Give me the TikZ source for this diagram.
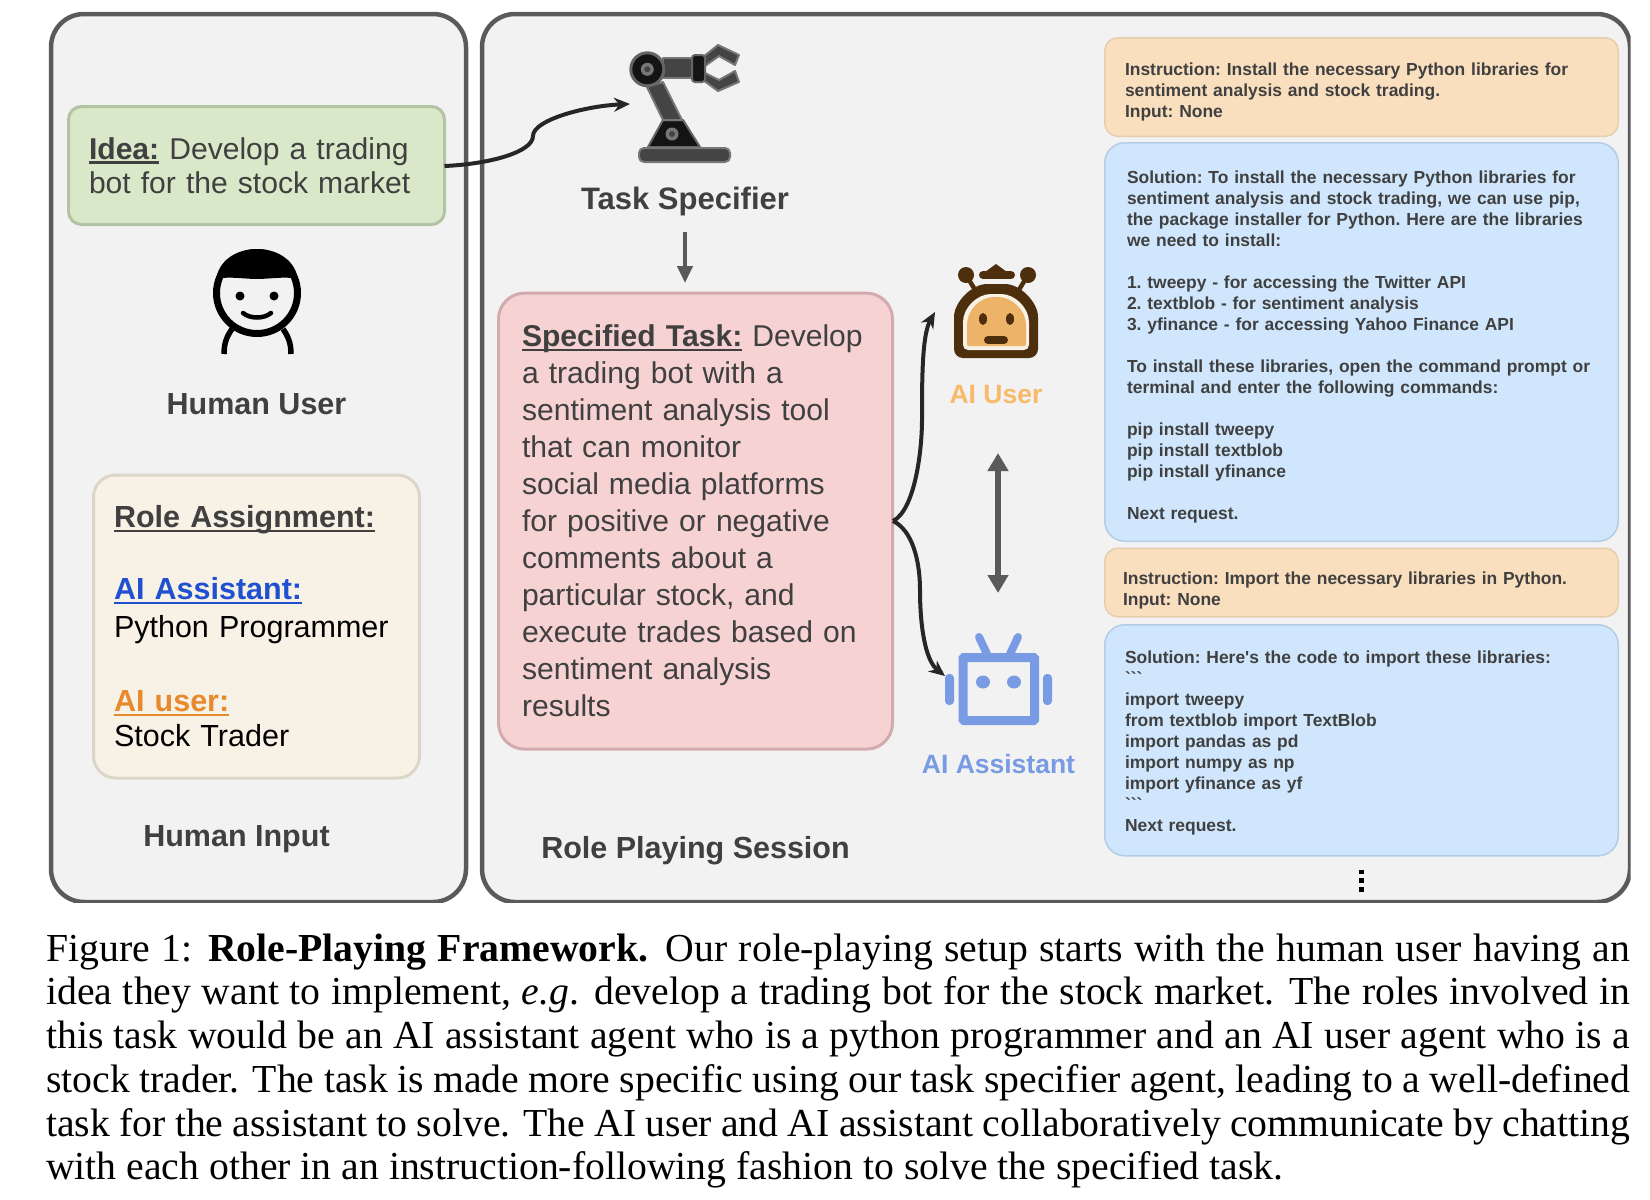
\documentclass[tikz,border=0pt]{standalone}
\usepackage{fontspec}
\setmainfont{Liberation Serif}
\setsansfont{Liberation Sans}
\usetikzlibrary{arrows.meta,positioning}
\definecolor{panelline}{HTML}{5A5A5A}
\definecolor{panelfill}{HTML}{F2F2F2}
\definecolor{inktext}{HTML}{404040}
\definecolor{ideafill}{HTML}{D9E8C9}
\definecolor{idealine}{HTML}{B3C4A5}
\definecolor{taskfill}{HTML}{F6D3D2}
\definecolor{taskline}{HTML}{D2ABAE}
\definecolor{rolefill}{HTML}{F8F1E6}
\definecolor{roleline}{HTML}{DCD5C9}
\definecolor{instrfill}{HTML}{FADFBF}
\definecolor{instrline}{HTML}{E6CDAE}
\definecolor{solfill}{HTML}{CFE6FC}
\definecolor{solline}{HTML}{B4CCE4}
\definecolor{userorange}{HTML}{F8BA69}
\definecolor{userbrown}{HTML}{4D2F0E}
\definecolor{userface}{HTML}{EDB369}
\definecolor{asstblue}{HTML}{789BE4}
\definecolor{roleblue}{HTML}{1F50D0}
\definecolor{roleorange}{HTML}{E68A2E}
\definecolor{armdark}{HTML}{141414}
\definecolor{armmid}{HTML}{444444}
\definecolor{armedge}{HTML}{777777}
\newcommand{\headword}[1]{\setbox0\hbox{\textbf{#1}}\rlap{\rule[-4.5pt]{\wd0}{2.5pt}}\box0\relax}
\tikzset{
  panel/.style={draw=panelline, fill=panelfill, line width=4.5pt, rounded corners=33pt, outer sep=0pt},
  idea/.style={draw=idealine, fill=ideafill, line width=3pt, rounded corners=13pt, outer sep=0pt, inner ysep=0pt, inner xsep=20.5pt, text width=335pt, minimum height=118pt, align=left, text=inktext, font=\sffamily\frenchspacing\fontsize{30.1}{34.5}\selectfont},
  spectask/.style={draw=taskline, fill=taskfill, line width=3pt, rounded corners=26pt, outer sep=0pt, inner ysep=0pt, inner xsep=23.5pt, text width=347pt, minimum height=456pt, align=left, text=inktext, font=\sffamily\frenchspacing\fontsize{30.1}{37}\selectfont},
  rolebox/.style={draw=roleline, fill=rolefill, line width=3pt, rounded corners=22pt, outer sep=0pt, inner ysep=0pt, inner xsep=20.5pt, text width=285pt, minimum height=303pt, align=left, text=inktext, font=\sffamily\frenchspacing\fontsize{30.5}{35}\selectfont},
  instr/.style={draw=instrline, fill=instrfill, line width=1.5pt, rounded corners=13pt, outer sep=0pt, inner ysep=0pt, inner xsep=20.25pt, text width=473pt, align=left, text=inktext, font=\sffamily\frenchspacing\fontsize{17.45}{21}\selectfont\bfseries},
  sol/.style={draw=solline, fill=solfill, line width=1.5pt, rounded corners=20pt, outer sep=0pt, inner ysep=0pt, inner xsep=20.25pt, text width=473pt, align=left, text=inktext, font=\sffamily\frenchspacing\fontsize{17.45}{21}\selectfont\bfseries},
  lbl/.style={inner sep=0pt, text=inktext, font=\sffamily\fontsize{30.5}{35}\selectfont\bfseries},
  agentlbl/.style={inner sep=0pt, font=\sffamily\fontsize{26.5}{30}\selectfont\bfseries},
  caption/.style={inner sep=0pt, text width=1584pt, align=justify, text=black, font=\rmfamily\fontsize{39.7}{43.7}\selectfont},
  curvearrow/.style={-{Stealth[length=16pt,width=14pt]}, line width=4pt, draw=black!85},
  downarrow/.style={-{Triangle[length=17pt,width=15pt]}, line width=4pt, draw=panelline},
  chatarrow/.style={{Triangle[length=18pt,width=20pt]}-{Triangle[length=18pt,width=20pt]}, line width=6.5pt, draw=panelline},
  armpart/.style={fill=armmid, draw=armedge, line width=2pt, line join=round},
  armdarkpart/.style={fill=armdark, draw=armedge!85!black, line width=2pt, line join=round}
}
\begin{document}
\begin{tikzpicture}[x=1pt, y=-1pt, font=\sffamily]
  \useasboundingbox (0,0) rectangle (1650,1200);

  \begin{scope}
    \clip (0,11.5) rectangle (1630.5,902.5);
    \node[panel, minimum width=415pt, minimum height=888pt] (input) at (258.5,458) {};
    \node[panel, minimum width=1148pt, minimum height=888pt] (session) at (1056,458) {};
  \end{scope}

  \node[idea] (idea) at (256.5,165.5) {\headword{Idea:} Develop a trading\\bot for the stock market};
  \node[lbl, below=168.5pt of idea] (humanlbl) {Human User};
  \node[rolebox] (role) at (256.5,626.5) {\headword{Role Assignment:}\\[37pt]\textcolor{roleblue}{\headword{AI Assistant:}}\\[3pt]\textcolor{black}{Python Programmer}\\[39pt]\textcolor{roleorange}{\headword{AI user:}}\\\textcolor{black}{Stock Trader}};
  \node[lbl, below=47pt of role, xshift=-20pt] (inputlbl) {Human Input};

  \node[lbl, font=\sffamily\bfseries\fontsize{31}{35}\selectfont] (speclbl) at (685,201) {Task Specifier};
  \node[spectask, below=77.5pt of speclbl, xshift=10.5pt] (task) {\headword{Specified Task:} Develop\\a trading bot with a\\sentiment analysis tool\\that can monitor\\social media platforms\\for positive or negative\\comments about a\\particular stock, and\\execute trades based on\\sentiment analysis\\results};
  \node[lbl, below=87.5pt of task] (sessionlbl) {Role Playing Session};

  \node[agentlbl, text=userorange] (userlbl) at (996,395) {AI User};
  \node[agentlbl, text=asstblue, below=350pt of userlbl, xshift=2.5pt] (asstlbl) {AI Assistant};

  \node[instr, minimum height=98.5pt] (instA) at (1361.5,87) {\rule{0pt}{22pt}Instruction: Install the necessary Python libraries for\\sentiment analysis and stock trading.\\Input: None};
  \node[sol, below=6.5pt of instA, minimum height=398.5pt, inner xsep=22.25pt, text width=469pt] (solA) {\rule{0pt}{23pt}Solution: To install the necessary Python libraries for\\sentiment analysis and stock trading, we can use pip,\\the package installer for Python. Here are the libraries\\we need to install:\\~\\1. tweepy - for accessing the Twitter API\\2. textblob - for sentiment analysis\\3. yfinance - for accessing Yahoo Finance API\\~\\To install these libraries, open the command prompt or\\terminal and enter the following commands:\\~\\pip install tweepy\\pip install textblob\\pip install yfinance\\~\\Next request.};
  \node[instr, below=7pt of solA, minimum height=68.5pt, inner xsep=18.25pt, text width=477pt] (instB) {\rule{0pt}{28pt}Instruction: Import the necessary libraries in Python.\\Input: None};
  \node[sol, below=8pt of instB, minimum height=231pt] (solB) {\rule{0pt}{18pt}Solution: Here\textquotesingle s the code to import these libraries:\\\textasciigrave\textasciigrave\textasciigrave\\import tweepy\\from textblob import TextBlob\\import pandas as pd\\import numpy as np\\import yfinance as yf\\\textasciigrave\textasciigrave\textasciigrave\\Next request.};
  \foreach \dotY in {869.7,878,887}
    \fill (1359,\dotY) rectangle ++(4.5,4.5);

  \coordinate (armin) at (630,104);
  \coordinate (userin) at (935,312);
  \coordinate (asstin) at (945,676);
  \coordinate (chattop) at (998,453);
  \coordinate (chatbot) at (998,593);
  \coordinate (taskout) at (893,521);

  \draw[armdarkpart] (663,120) -- (683,120) -- (700,147) -- (648,147) -- cycle;
  \draw[armpart] (647,87) -- (663,82) -- (682,120) -- (663,120) -- cycle;
  \draw[armpart] (663,58) rectangle (693,78);
  \draw[armpart] (703,57) -- (718,45) -- (739,55) -- (735,65) -- (719,56) -- (705,66) -- cycle;
  \draw[armpart] (705,73) -- (719,80) -- (735,71) -- (739,82) -- (718,91) -- (703,80) -- cycle;
  \draw[armdarkpart, rounded corners=3pt] (692,55) rectangle (705,82);
  \draw[armdarkpart, line width=3pt] (647.3,69.3) circle (16.5);
  \fill[armedge] (647.3,69.3) circle (6.5);
  \fill[armmid] (647.3,69.3) circle (3);
  \fill[armedge] (672,134) circle (6.5);
  \fill[armmid] (672,134) circle (3);
  \draw[armpart, rounded corners=5pt] (639,162) -- (639,148) -- (730,148) -- (730,162) -- cycle;

  \draw[line width=7pt] (257,293) ellipse (40.5 and 40.5);
  \fill (216.5,279) .. controls (218,262) and (235,249) .. (257,249) .. controls (279,249) and (296,262) .. (297.5,279) .. controls (285,276) and (270,279) .. (257,279) .. controls (244,279) and (229,276) .. (216.5,279) -- cycle;
  \fill (240,296) circle (4.5);
  \fill (274,296) circle (4.5);
  \draw[line width=4.5pt, line cap=round] (243,313) .. controls (250,319) and (264,319) .. (271,313);
  \draw[line width=5.5pt] (224,354) .. controls (224,343) and (227,336) .. (232,329);
  \draw[line width=5.5pt] (291,354) .. controls (291,343) and (288,336) .. (283,329);

  \fill[userbrown, rounded corners=9pt] (954,358) -- (954,326) .. controls (954,302) and (972,284) .. (996,284) .. controls (1020,284) and (1038,302) .. (1038,326) -- (1038,358) -- cycle;
  \fill[rolefill, rounded corners=5pt] (963,350) -- (963,327) .. controls (963,308) and (977,294) .. (996,294) .. controls (1015,294) and (1029,308) .. (1029,327) -- (1029,350) -- cycle;
  \fill[userface, rounded corners=2pt] (967,346) -- (967,327) .. controls (967,310) and (980,297) .. (996,297) .. controls (1012,297) and (1026,310) .. (1026,327) -- (1026,346) -- cycle;
  \fill[userbrown] (983,319) ellipse (4 and 6);
  \fill[userbrown] (1010,319) ellipse (4 and 6);
  \draw[userbrown, line width=8pt, line cap=round] (988,340) -- (1004,340);
  \draw[userbrown, line width=4.5pt] (966,275) -- (977,293);
  \draw[userbrown, line width=4.5pt] (1028,275) -- (1017,293);
  \fill[userbrown] (966,275) circle (8);
  \fill[userbrown] (1028,275) circle (8);
  \draw[userbrown, line width=8pt, line cap=round] (983,275) -- (1011,275);
  \fill[userbrown] (985,272) -- (996,264) -- (1007,272) -- cycle;

  \draw[asstblue, line width=9pt, rounded corners=1pt] (963,657.5) rectangle (1034.5,720.5);
  \fill[asstblue] (983,682) ellipse (7 and 6.5);
  \fill[asstblue] (1014,682) ellipse (7 and 6.5);
  \fill[asstblue, rounded corners=4pt] (945,674) rectangle (954,705);
  \fill[asstblue, rounded corners=4pt] (1043,674) rectangle (1052,705);
  \draw[asstblue, line width=8pt, line cap=round] (979,637) -- (987,654);
  \draw[asstblue, line width=8pt, line cap=round] (1018,637) -- (1010,654);

  \draw[curvearrow] (idea.east |- 0,166) .. controls (490,164) and (533,152) .. (533,136) .. controls (533,120) and (585,106) .. (armin);
  \draw[downarrow] (speclbl.south |- 0,232) -- (speclbl.south |- 0,283);
  \draw[curvearrow] (taskout) .. controls (915,510) and (922,450) .. (922,420) .. controls (922,380) and (922,335) .. (userin);
  \draw[curvearrow] (taskout) .. controls (912,530) and (920,560) .. (920,590) .. controls (920,625) and (925,660) .. (asstin);
  \draw[chatarrow] (chattop) -- (chatbot);

  \node[caption, anchor=north west] (figcap) at (46,933.5) {Figure 1: \textbf{Role-Playing Framework.} Our role-playing setup starts with the human user having an idea they want to implement, \textit{e.g}. develop a trading bot for the stock market. The roles involved in this task would be an AI assistant agent who is a python programmer and an AI user agent who is a stock trader. The task is made more specific using our task specifier agent, leading to a well-defined task for the assistant to solve. The AI user and AI assistant collaboratively communicate by chatting with each other in an instruction-following fashion to solve the specified task.};
\end{tikzpicture}
\end{document}
